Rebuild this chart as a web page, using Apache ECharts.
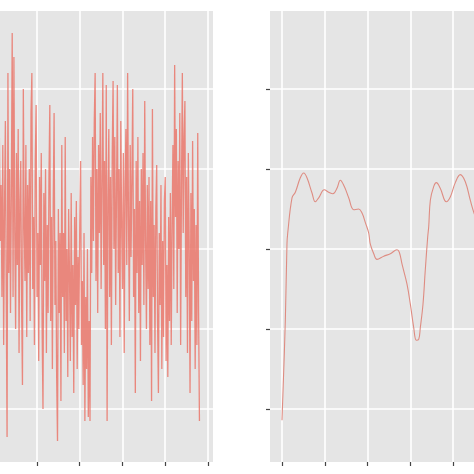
<!DOCTYPE html>
<html>
<head>
<meta charset="utf-8">
<script src="https://cdn.jsdelivr.net/npm/echarts@6/dist/echarts.min.js"></script>
<style>html,body{margin:0;padding:0;background:#fff}#c{width:474px;height:474px}</style>
</head>
<body>
<div id="c"></div>
<script>
// Left panel: raw noisy series (sample index -> value)
const leftValues = [
  0.6,-0.4,1.1,-0.2,0.9,-0.9,1.4,0.1,0.8,-0.6,
  1.3,-1.2,0.5,1.6,-0.5,-2.35,2.2,-0.3,1.0,-0.8,
  0.7,2.7,-0.6,2.4,0.2,-1.0,1.2,-0.2,1.5,-1.3,
  0.6,1.1,-0.7,-1.7,2.0,0.3,-0.4,1.3,-1.1,0.8,
  -0.3,1.0,-0.9,1.7,2.2,-0.5,0.4,-1.2,1.1,1.8,
  -0.6,0.2,-1.4,0.9,-0.2,1.2,-1.0,-2.0,0.7,-0.4,
  1.0,-1.3,0.3,-0.8,0.9,
  1.8,-0.9,0.4,-1.5,0.6,1.7,-0.7,0.1,-1.6,-2.4,0.5,-0.8,0.2,
  -1.9,1.3,-0.6,0.2,-1.3,1.4,-0.9,0.0,-1.6,0.5,-0.3,-1.4,
  0.7,-1.1,-0.2,-1.8,0.4,-0.7,0.6,-1.5,-0.1,-1.0,0.3,1.1,
  -1.2,-0.4,-1.7,0.2,-2.15,-0.6,-1.5,0.0,-2.1,-0.9,
  -2.15,0.9,-0.3,1.4,0.1,1.6,2.2,-0.4,
  1.0,-0.8,1.3,0.2,1.7,-0.5,0.8,2.2,-0.2,1.1,
  -1.0,2.05,-2.15,0.6,1.5,-0.6,0.9,-1.2,1.2,2.1,
  0.0,1.4,-0.7,0.7,2.05,-0.3,1.0,-1.1,1.6,0.3,
  -0.5,1.2,-1.3,0.8,1.5,-0.2,2.2,0.4,-0.9,1.3,
  -0.1,0.9,2.0,-0.6,0.5,-1.8,1.1,-0.3,1.4,-0.8,
  0.6,-1.4,1.0,-0.2,1.2,-0.7,1.85,0.1,-1.0,0.8,-0.5,0.9,
  -1.2,0.6,-1.9,1.75,-0.6,0.3,-1.3,0.5,1.05,-0.9,-1.8,0.2,
  -0.7,0.8,-1.5,0.1,-1.1,0.6,0.9,-1.4,-0.2,-1.6,0.4,-0.9,0.7,-1.2,
  0.3,1.3,-0.5,2.3,0.4,1.5,-0.8,1.1,0.0,1.7,-1.2,0.8,
  2.2,0.2,1.4,1.85,-0.6,0.9,-1.3,1.2,0.1,-1.8,0.7,-0.9,1.35,-0.4,0.5,-1.5,0.3,
  -1.2,1.45,-0.8,-2.15
];

// Right panel: smoothed curve (x position, value)
const rightX = [0,3.9,5.8,6.7,11.7,15.6,21.4,25.4,29.2,35.1,38.9,42.9,49.5,54.6,59.6,64.3,68.2,72.9,78,83.9,89.7,93.6,97.5,101.4,103.3,107.3,111.1,119,126.7,134.5,137.2,140.4,146.2,150.1,154,157.1,159.9,161.8,164.9,167.6,170.4,171.6,173.5,177.4,180.5,185.1,192.2,196.8,202.7,208.5,214.4,220.2,224.6,232];
const rightY = [-2.14,-0.89,0.06,0.2,0.64,0.71,0.89,0.95,0.89,0.70,0.59,0.64,0.74,0.71,0.69,0.76,0.86,0.78,0.64,0.49,0.50,0.45,0.33,0.20,0.06,-0.06,-0.13,-0.09,-0.06,-0.01,-0.04,-0.19,-0.44,-0.69,-0.98,-1.14,-1.13,-0.98,-0.69,-0.26,0.15,0.28,0.61,0.78,0.83,0.76,0.59,0.65,0.83,0.93,0.84,0.61,0.45,0.25];

const xTicks = [0,50,100,150,200,250,300];
const yTicks = [-2,-1,0,1,2];

const leftData = leftValues.map((v,i)=>[i,v]);
const rightData = rightX.map((x,i)=>[x,rightY[i]]);

const chart = echarts.init(document.getElementById('c'), null, {renderer:'canvas'});
const gridCommon = {top:11, height:451, show:true, backgroundColor:'#E5E5E5', borderWidth:0, containLabel:false};
function xAx(idx,min,max){return {type:'value', gridIndex:idx, min:min, max:max,
  axisLine:{show:false, onZero:false}, axisLabel:{show:false},
  axisTick:{show:true, length:4, lineStyle:{color:'#444', width:1.2}, customValues:xTicks},
  splitLine:{show:true, lineStyle:{color:'#fff', width:1.6}}};}
function yAx(idx){return {type:'value', gridIndex:idx, min:-2.6625, max:2.975,
  axisLine:{show:false, onZero:false}, axisLabel:{show:false},
  axisTick:{show:true, length:4, lineStyle:{color:'#444', width:1.2}, customValues:yTicks},
  splitLine:{show:true, lineStyle:{color:'#fff', width:1.6}}};}
chart.setOption({
  animation:false,
  backgroundColor:'#fff',
  grid:[Object.assign({left:0, width:213}, gridCommon), Object.assign({left:270, width:204}, gridCommon)],
  xAxis:[xAx(0,6.725,255.85), xAx(1,-14.04,224.56)],
  yAxis:[yAx(0), yAx(1)],
  series:[
    {type:'line', xAxisIndex:0, yAxisIndex:0, data:leftData, showSymbol:false,
     lineStyle:{color:'#EA776B', width:1.3, opacity:0.85}},
    {type:'line', xAxisIndex:1, yAxisIndex:1, data:rightData, showSymbol:false, smooth:0.4,
     lineStyle:{color:'#DE8C82', width:1.1}}
  ]
});
</script>
</body>
</html>
